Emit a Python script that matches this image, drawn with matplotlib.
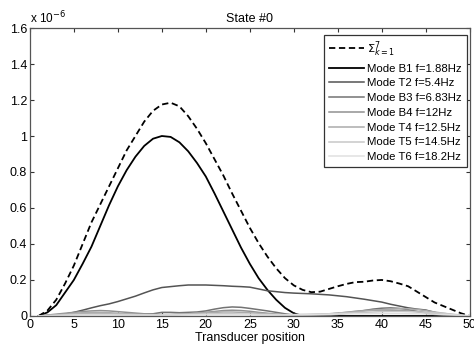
import numpy as np
import matplotlib
matplotlib.use("Agg")
import matplotlib.pyplot as plt

plt.rcParams['font.family'] = ['Liberation Sans', 'DejaVu Sans']

# transducer positions 1..50, amplitudes in units of 1e-6
pos = np.arange(1, 51)

total = [0.0, 0.03, 0.09, 0.18, 0.28, 0.40, 0.52, 0.62, 0.72, 0.82,
         0.92, 1.00, 1.08, 1.14, 1.175, 1.185, 1.165, 1.11, 1.04, 0.96,
         0.87, 0.78, 0.68, 0.585, 0.49, 0.405, 0.33, 0.265, 0.21, 0.17,
         0.145, 0.132, 0.135, 0.15, 0.165, 0.178, 0.188, 0.19, 0.197, 0.20,
         0.193, 0.18, 0.165, 0.135, 0.105, 0.075, 0.055, 0.035, 0.015, 0.0]

b1 = [0.0, 0.02, 0.06, 0.13, 0.20, 0.29, 0.385, 0.50, 0.615, 0.72,
      0.81, 0.885, 0.945, 0.985, 1.0, 0.995, 0.965, 0.915, 0.85, 0.775,
      0.68, 0.58, 0.48, 0.38, 0.29, 0.21, 0.145, 0.09, 0.045, 0.015,
      0.0, 0, 0, 0, 0, 0, 0, 0, 0, 0,
      0, 0, 0, 0, 0, 0, 0, 0, 0, 0]

t2 = [0.0, 0.0, 0.003, 0.01, 0.02, 0.032, 0.045, 0.057, 0.067, 0.08,
      0.095, 0.11, 0.128, 0.145, 0.158, 0.163, 0.168, 0.172, 0.172, 0.172,
      0.17, 0.168, 0.165, 0.163, 0.16, 0.15, 0.14, 0.135, 0.13, 0.127,
      0.125, 0.123, 0.12, 0.117, 0.112, 0.107, 0.10, 0.093, 0.085, 0.077,
      0.065, 0.055, 0.045, 0.038, 0.033, 0.02, 0.01, 0.005, 0.0, 0.0]

b3 = [0.0, 0.003, 0.006, 0.008, 0.01, 0.012, 0.012, 0.012, 0.011, 0.01,
      0.01, 0.01, 0.01, 0.012, 0.02, 0.02, 0.018, 0.02, 0.022, 0.028,
      0.038, 0.046, 0.05, 0.048, 0.042, 0.035, 0.028, 0.02, 0.012, 0.005,
      0.002, 0.0, 0.0, 0.003, 0.008, 0.015, 0.022, 0.03, 0.038, 0.043,
      0.045, 0.042, 0.035, 0.025, 0.015, 0.008, 0.004, 0.002, 0.0, 0.0]

b4 = [0.0, 0.005, 0.01, 0.015, 0.02, 0.025, 0.028, 0.03, 0.028, 0.024,
      0.02, 0.016, 0.012, 0.01, 0.008, 0.008, 0.01, 0.012, 0.016, 0.02,
      0.025, 0.03, 0.032, 0.03, 0.026, 0.02, 0.015, 0.01, 0.006, 0.004,
      0.003, 0.004, 0.006, 0.01, 0.015, 0.02, 0.026, 0.03, 0.032, 0.033,
      0.032, 0.03, 0.028, 0.025, 0.02, 0.015, 0.01, 0.005, 0.002, 0.0]

t4 = [0.0, 0.003, 0.006, 0.01, 0.014, 0.018, 0.02, 0.02, 0.018, 0.015,
      0.012, 0.009, 0.007, 0.006, 0.006, 0.007, 0.009, 0.012, 0.015, 0.018,
      0.02, 0.022, 0.022, 0.02, 0.018, 0.015, 0.012, 0.009, 0.007, 0.006,
      0.006, 0.007, 0.009, 0.012, 0.016, 0.02, 0.024, 0.028, 0.032, 0.035,
      0.038, 0.04, 0.04, 0.036, 0.03, 0.022, 0.015, 0.008, 0.003, 0.0]

t5 = [0.0, 0.002, 0.004, 0.006, 0.008, 0.01, 0.011, 0.011, 0.01, 0.009,
      0.008, 0.007, 0.006, 0.006, 0.006, 0.007, 0.008, 0.009, 0.01, 0.011,
      0.012, 0.012, 0.012, 0.011, 0.01, 0.009, 0.008, 0.007, 0.007, 0.008,
      0.009, 0.01, 0.011, 0.012, 0.014, 0.016, 0.018, 0.02, 0.022, 0.024,
      0.025, 0.025, 0.024, 0.022, 0.02, 0.018, 0.015, 0.01, 0.005, 0.0]

t6 = [0.0, 0.001, 0.002, 0.003, 0.004, 0.005, 0.005, 0.005, 0.005, 0.004,
      0.004, 0.004, 0.004, 0.004, 0.004, 0.005, 0.005, 0.006, 0.006, 0.006,
      0.006, 0.006, 0.006, 0.006, 0.006, 0.005, 0.005, 0.005, 0.005, 0.006,
      0.006, 0.007, 0.008, 0.009, 0.01, 0.011, 0.012, 0.012, 0.013, 0.013,
      0.013, 0.013, 0.012, 0.012, 0.011, 0.01, 0.008, 0.006, 0.003, 0.0]

modes = [b1, t2, b3, b4, t4, t5, t6]
labels = ["Mode B1 f=1.88Hz", "Mode T2 f=5.4Hz", "Mode B3 f=6.83Hz",
          "Mode B4 f=12Hz", "Mode T4 f=12.5Hz", "Mode T5 f=14.5Hz",
          "Mode T6 f=18.2Hz"]
greys = [0.0, 0.33, 0.45, 0.57, 0.67, 0.78, 0.88]

fig = plt.figure(figsize=(4.74, 3.55), dpi=100)
ax = fig.add_axes([0.063, 0.11, 0.928, 0.811])

ax.plot(pos, total, "k--", lw=1.3, dashes=(3.5, 2), label=r"$\Sigma_{k=1}^{7}$")
for vals, lab, g in zip(modes, labels, greys):
    ax.plot(pos, vals, color=(g, g, g), lw=1.3 if g == 0 else 1.1, label=lab)

ax.set_xlim(0, 50)
ax.set_ylim(0, 1.6)
ax.set_xticks(np.arange(0, 51, 5))
yt = np.arange(0, 1.61, 0.2)
ax.set_yticks(yt)
ax.set_yticklabels(["0", "0.2", "0.4", "0.6", "0.8", "1", "1.2", "1.4", "1.6"])
ax.tick_params(direction="in", top=True, right=True, labelsize=9,
               length=3, colors="#333333", labelcolor="black", pad=2)
for s in ax.spines.values():
    s.set_color("#555555")
    s.set_linewidth(0.9)

ax.text(0.0, 1.005, r"x 10$^{-6}$", transform=ax.transAxes, fontsize=8.5,
        ha="left", va="bottom")
ax.set_title("State #0", fontsize=9, pad=4)
ax.set_xlabel("Transducer position", fontsize=9, labelpad=1)

leg = ax.legend(loc="upper right", bbox_to_anchor=(0.998, 0.985), fontsize=8.2,
                fancybox=False, framealpha=1, edgecolor="#333333",
                handlelength=3.1, borderpad=0.4, labelspacing=0.42,
                handletextpad=0.3, borderaxespad=0.2)
leg.get_frame().set_linewidth(0.9)

fig.savefig("out.png", dpi=100)
